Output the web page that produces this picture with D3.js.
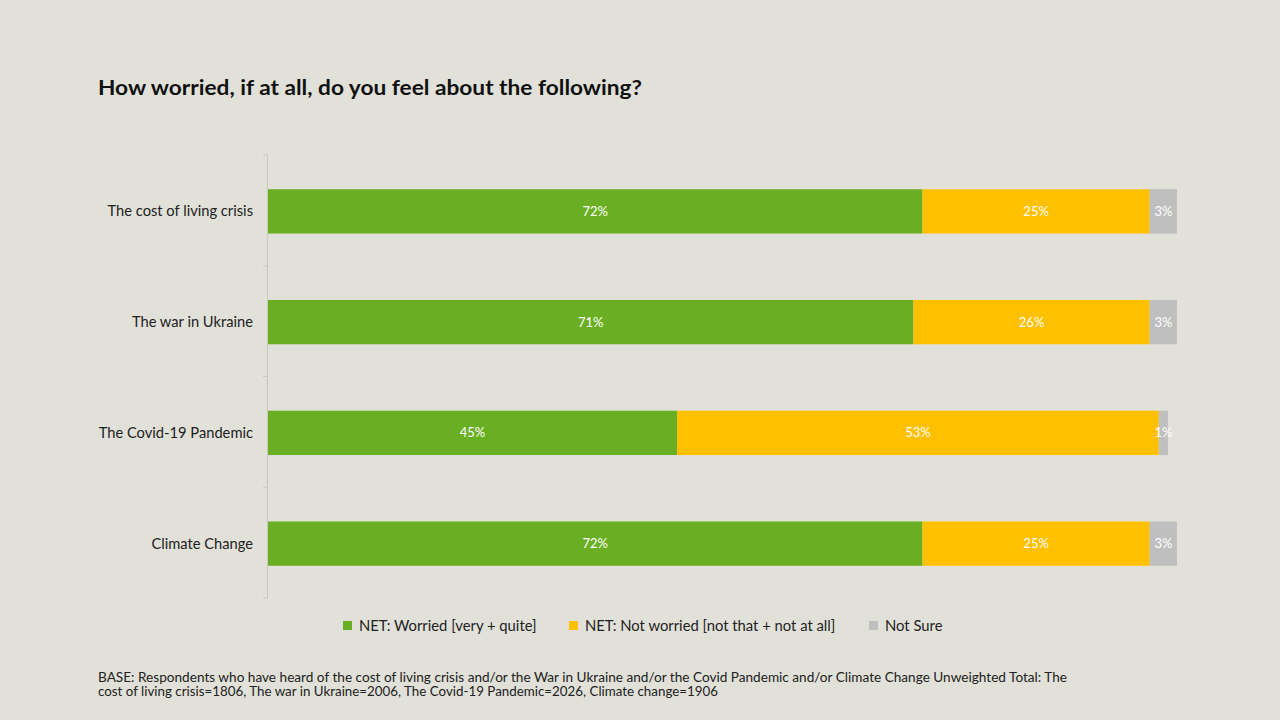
<!DOCTYPE html>
<html><head><meta charset="utf-8">
<script src="https://cdn.jsdelivr.net/npm/d3@7"></script>
<style>
body{margin:0;background:#e1e1d9;}
svg{display:block;font-family:Lato,"Open Sans",sans-serif;}
</style></head>
<body>
<svg id="c" width="1280" height="720"></svg>
<script>
const categories = ["The cost of living crisis","The war in Ukraine","The Covid-19 Pandemic","Climate Change"];
const seriesNames = ["NET: Worried [very + quite]","NET: Not worried [not that + not at all]","Not Sure"];
const worried = [72,71,45,72];
const notWorried = [25,26,53,25];
const notSure = [3,3,1,3];
const colors = ["#6aaf23","#ffc000","#bfbfbf"];
const title = "How worried, if at all, do you feel about the following?";
const footLines = ["BASE: Respondents who have heard of the cost of living crisis and/or the War in Ukraine and/or the Covid Pandemic and/or Climate Change Unweighted Total: The",
"cost of living crisis=1806, The war in Ukraine=2006, The Covid-19 Pandemic=2026, Climate change=1906"];

const svg = d3.select("#c");
const x0 = 268, x1 = 1177, yTop = 155, yBot = 598;
const x = d3.scaleLinear().domain([0,100]).range([x0,x1]);
const y = d3.scaleBand().domain(categories).range([yTop+1,yBot+1]).paddingInner(0.6).paddingOuter(0.3);

svg.append("text").attr("x",98).attr("y",95).attr("font-size",20).attr("font-weight","bold").attr("fill","#111")
  .attr("textLength",544).attr("lengthAdjust","spacingAndGlyphs").text(title);

// axis
svg.append("line").attr("x1",x0-0.5).attr("x2",x0-0.5).attr("y1",yTop).attr("y2",yBot).attr("stroke","#c8c8c0").attr("stroke-width",1);
const step = (yBot-yTop)/categories.length;
for(let i=0;i<=categories.length;i++){
  const yy = yTop + i*step;
  svg.append("line").attr("x1",x0-5).attr("x2",x0).attr("y1",yy).attr("y2",yy).attr("stroke","#c8c8c0");
}

const data = categories.map((c,i)=>({cat:c, v:[worried[i],notWorried[i],notSure[i]]}));
data.forEach(d=>{
  let acc=0;
  d.v.forEach((v,j)=>{
    const g = svg.append("g");
    g.append("rect").attr("x",x(acc)).attr("y",y(d.cat)).attr("width",x(acc+v)-x(acc)).attr("height",y.bandwidth()).attr("fill",colors[j]);
    g.append("text").attr("x",(x(acc)+x(acc+v))/2).attr("y",y(d.cat)+y.bandwidth()/2+4.5).attr("text-anchor","middle").attr("font-size",13).attr("fill","#fff").text(v+"%");
    acc+=v;
  });
  svg.append("text").attr("x",253).attr("y",y(d.cat)+y.bandwidth()/2+5).attr("text-anchor","end").attr("font-size",14.7).attr("fill","#222").text(d.cat);
});

// legend
const legX = [343,569,869];
seriesNames.forEach((s,j)=>{
  svg.append("rect").attr("x",legX[j]).attr("y",621).attr("width",9).attr("height",9).attr("fill",colors[j]);
  svg.append("text").attr("x",legX[j]+16).attr("y",631).attr("font-size",14.8).attr("fill","#222").text(s);
});

// footnote
svg.append("text").attr("x",98).attr("y",682).attr("font-size",12.5).attr("fill","#222").attr("textLength",969).attr("lengthAdjust","spacingAndGlyphs").text(footLines[0]);
svg.append("text").attr("x",98).attr("y",696).attr("font-size",12.5).attr("fill","#222").attr("textLength",620).attr("lengthAdjust","spacingAndGlyphs").text(footLines[1]);
</script>
</body></html>
